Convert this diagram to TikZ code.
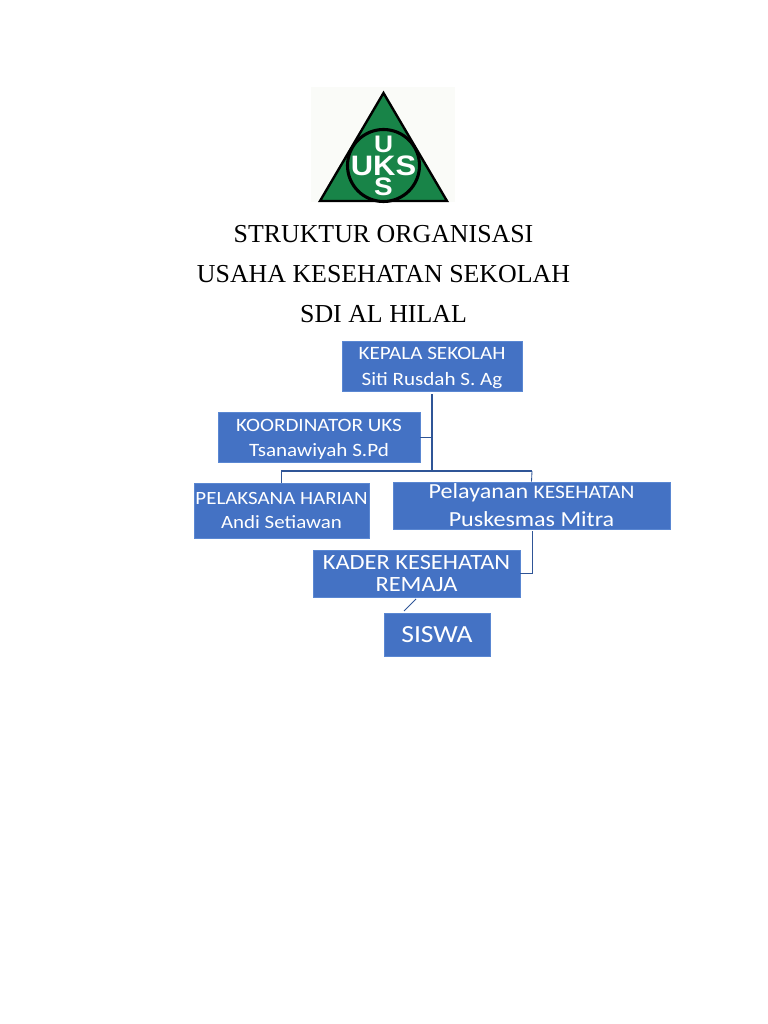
\documentclass[tikz,border=0pt]{standalone}
\usepackage{fontspec}
\setmainfont{Liberation Serif}
\newfontfamily\boxfont[FakeStretch=1.12]{Carlito}
\newfontfamily\logofont[FakeStretch=1.1]{Liberation Sans}
\definecolor{boxblue}{RGB}{68,114,196}
\definecolor{boxedge}{RGB}{90,135,210}
\definecolor{linkblue}{RGB}{47,85,151}
\definecolor{uksgreen}{RGB}{24,132,72}
\definecolor{logoback}{RGB}{250,251,248}
\tikzset{
  orgbox/.style={draw=boxedge,fill=boxblue,text=white,align=center,inner sep=0pt,line width=0.5pt},
  logotext/.style={text=white,inner sep=0pt,font=\logofont\bfseries},
  titletext/.style={inner sep=0pt,font=\fontsize{18.4}{20}\selectfont},
  mainlink/.style={draw=linkblue,line width=1.2pt},
  sidelink/.style={draw=linkblue,line width=0.6pt}
}
\begin{document}
\begin{tikzpicture}[x=0.025cm,y=-0.025cm]
  \useasboundingbox (0,0) rectangle (768,1024);
  % logo
  \fill[logoback] (311,87) rectangle (455,202);
  \draw[fill=uksgreen,line width=1.7pt,line join=miter] (383.5,93) -- (320,201) -- (447,201) -- cycle;
  \draw[fill=uksgreen,line width=2.2pt] (383.5,165.5) circle (36);
  \node[logotext,font=\logofont\bfseries\fontsize{17}{17}\selectfont] (logou) at (383.5,144.5) {U};
  \node[logotext,font=\logofont\bfseries\fontsize{20}{20}\selectfont] (logomid) at (383.5,165.5) {UKS};
  \node[logotext,font=\logofont\bfseries\fontsize{18}{18}\selectfont] (logos) at (383.5,187) {S};
  % title
  \node[titletext] (title1) at (383.5,234) {STRUKTUR ORGANISASI};
  \node[titletext] (title2) at (383.5,274) {USAHA KESEHATAN SEKOLAH};
  \node[titletext] (title3) at (383.5,314) {SDI AL HILAL};
  % boxes
  \node[orgbox,minimum width=4.5cm,minimum height=1.25cm,font=\boxfont\fontsize{13.4}{18}\selectfont] (kepala) at (432,366) {\rule{0pt}{11.5pt}KEPALA SEKOLAH\\Siti Rusdah S. Ag};
  \node[orgbox,minimum width=5.05cm,minimum height=1.25cm,font=\boxfont\fontsize{13.4}{17.5}\selectfont] (koordinator) at (319,437) {\rule{0pt}{12.5pt}KOORDINATOR UKS\\Tsanawiyah S.Pd};
  \node[orgbox,minimum width=4.375cm,minimum height=1.375cm,font=\boxfont\fontsize{13.3}{17.5}\selectfont] (pelaksana) at (281.5,510.5) {PELAKSANA HARIAN\\Andi Setiawan};
  \node[orgbox,minimum width=6.925cm,minimum height=1.175cm,font=\boxfont\fontsize{15.3}{20}\selectfont] (pelayanan) at (531.5,505.5) {Pelayanan {\fontsize{13.6}{20}\selectfont KESEHATAN}\\Puskesmas Mitra};
  \node[orgbox,minimum width=5.175cm,minimum height=1.175cm,font=\boxfont\fontsize{15.5}{16}\selectfont] (kader) at (416.5,573.5) {KADER KESEHATAN\\REMAJA};
  \node[orgbox,minimum width=2.65cm,minimum height=1.075cm,font=\boxfont\fontsize{17.5}{20}\selectfont] (siswa) at (437,634.5) {SISWA};
  % links
  \coordinate (trunktop) at (432,394);
  \coordinate (trunkfoot) at (432,471);
  \coordinate (barright) at (532,471);
  \coordinate (belowpelayanan) at (532,531);
  \coordinate (kadertail) at (416,599);
  \coordinate (siswatail) at (404,611);
  \draw[mainlink] (trunktop) -- (trunkfoot);
  \draw[sidelink] (koordinator.east) -- (koordinator.east -| trunktop);
  \draw[mainlink] (pelaksana.north) |- (trunkfoot) -- (barright);
  \draw[sidelink] (barright) -- (pelayanan.north);
  \draw[sidelink] (belowpelayanan) |- (kader.east);
  \draw[sidelink] (kadertail) -- (siswatail);
\end{tikzpicture}
\end{document}
